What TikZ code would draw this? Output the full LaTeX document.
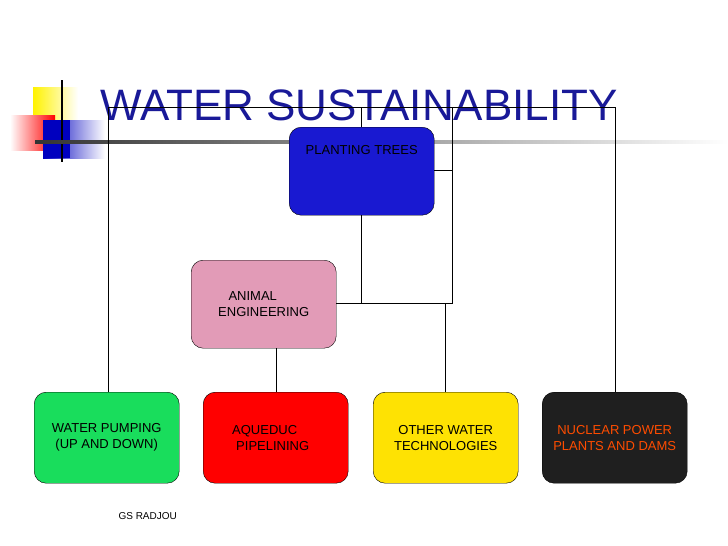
\documentclass[tikz,border=0pt]{standalone}
\usepackage{fontspec}
\setmainfont{Liberation Sans}
\begin{document}
\begin{tikzpicture}[x=1pt,y=-1pt,
  box/.style={draw=black,rounded corners=12pt,minimum width=145pt,minimum height=91pt,inner sep=0pt,font=\fontsize{13}{16}\selectfont,align=center},
  ln/.style={draw=black,line width=0.8pt}]
\useasboundingbox (0,0) rectangle (728,546);
% decoration
\shade[left color=yellow!90!orange,right color=white] (33,87) rectangle (78,130);
\shade[left color=white,right color=red] (10,115) rectangle (55,150);
\shade[left color=blue!75!black,right color=white] (43,120) rectangle (105,158);
\fill[blue!75!black] (43,120) rectangle (70,158);
\draw[line width=1.5pt] (62,80) -- (62,162);
\shade[left color=black!80,right color=white] (35,140) rectangle (728,143);
\node[anchor=base west,text=blue!55!black!90,font=\fontsize{44}{50}\selectfont,inner sep=0pt] (title) at (100,120) {WATER SUSTAINABILITY};
% boxes
\node[box,fill=blue!80!black!90,anchor=north west,minimum height=88pt] (pt) at (289,127) {PLANTING TREES\\[26pt]\mbox{}};
\node[box,fill=violet!25!pink!90,anchor=north west,minimum height=88pt] (ae) at (191,260) {ANIMAL\hspace*{22pt}\\ENGINEERING};
\node[box,fill=green!80!cyan!70!teal!90,anchor=north west] (wp) at (34,392) {WATER PUMPING\\(UP AND DOWN)};
\node[box,fill=red,anchor=north west] (aq) at (203,392) {AQUEDUC\hspace*{22pt}\\PIPELINING\hspace*{6pt}};
\node[box,fill=yellow!85!orange,anchor=north west] (ow) at (373,392) {OTHER WATER\\TECHNOLOGIES};
\node[box,fill=black!88,text=orange!60!red,anchor=north west] (np) at (542,392) {NUCLEAR POWER\\PLANTS AND DAMS};
\node[font=\fontsize{10}{12}\selectfont,anchor=west] (ft) at (115,516) {GS RADJOU};
% connectors
\coordinate (tl) at (108,107); \coordinate (tr) at (615,107);
\coordinate (tm) at (361,107); \coordinate (tk) at (452,107);
\coordinate (jr) at (452,303); \coordinate (jm) at (361,303);
\draw[ln] (wp.north -| tl) -- (tl) -- (tr) -- (np.north -| tr);
\draw[ln] (tm) -- (pt.north -| tm);
\draw[ln] (pt.south -| tm) -- (jm);
\draw[ln] (ae.east |- jm) -- (jr) -- (tk);
\draw[ln] (pt.east |- 0,170) -- (452,170);
\draw[ln] (445,303) -- (ow.north -| 445,0);
\draw[ln] (ae.south -| 276,0) -- (aq.north -| 276,0);
\end{tikzpicture}
\end{document}
